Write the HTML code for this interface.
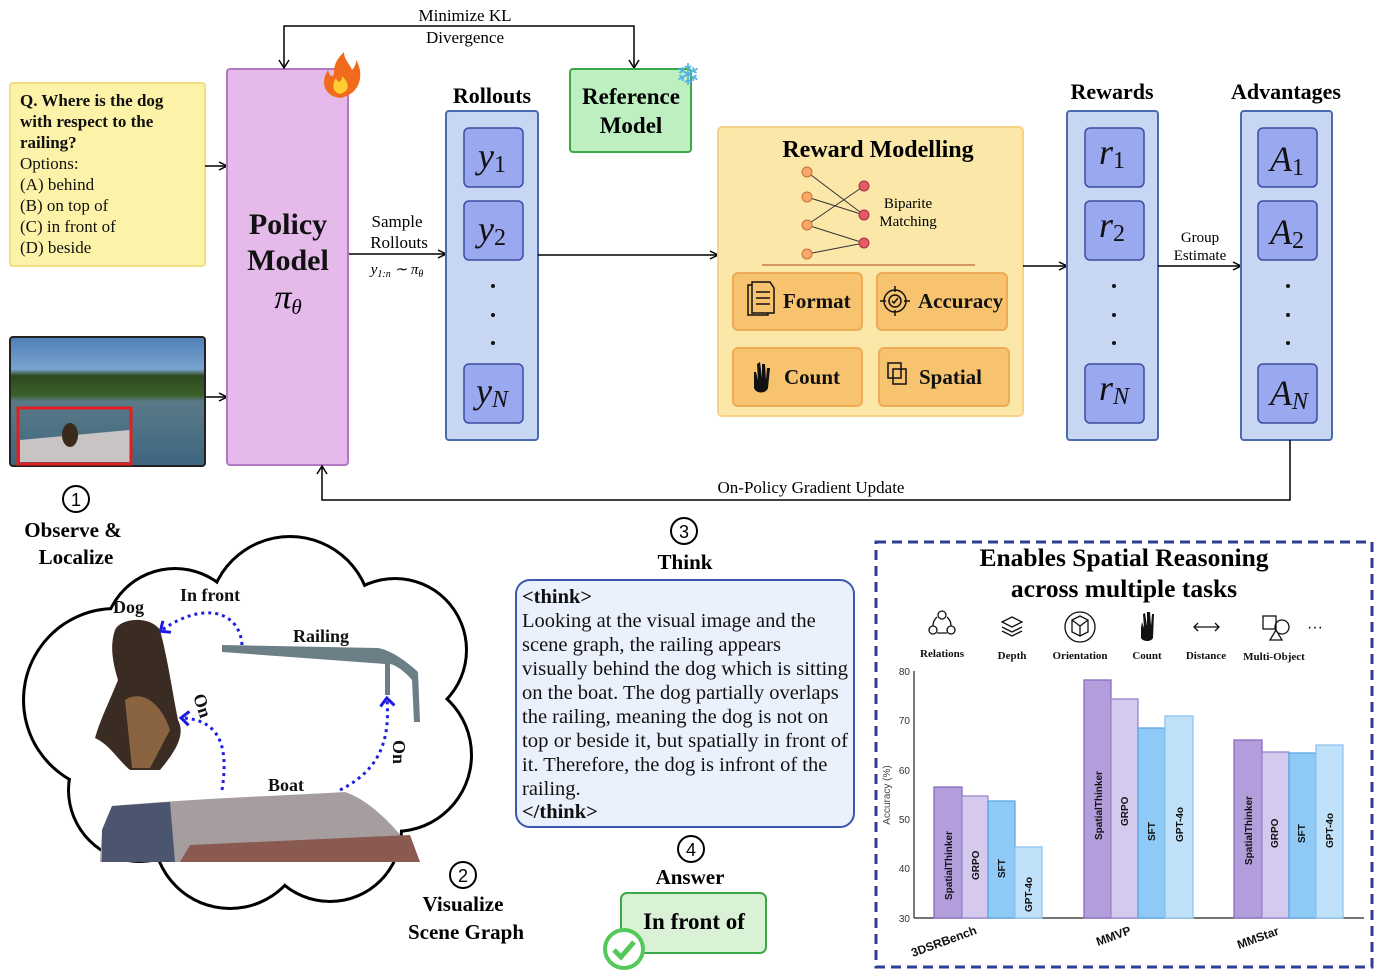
<!DOCTYPE html>
<html><head><meta charset="utf-8"><style>
html,body{margin:0;padding:0;background:#fff;}
svg{display:block;}
.s{font-family:"Liberation Serif",serif;}
.a{font-family:"Liberation Sans",sans-serif;}
</style></head><body>
<svg width="1376" height="977" viewBox="0 0 1376 977" xmlns="http://www.w3.org/2000/svg">
<defs>
<marker id="ar" markerWidth="10" markerHeight="10" refX="9" refY="5" orient="auto" markerUnits="userSpaceOnUse"><path d="M1,1 L9,5 L1,9" fill="none" stroke="#000" stroke-width="1.5"/></marker>
<marker id="bar" markerWidth="16" markerHeight="16" refX="8" refY="8" orient="auto" markerUnits="userSpaceOnUse"><path d="M2,1 L10,8 L2,15" fill="none" stroke="#1a1ae0" stroke-width="3"/></marker>
<linearGradient id="sky" x1="0" y1="0" x2="0" y2="1"><stop offset="0" stop-color="#4f7fb5"/><stop offset="0.25" stop-color="#7aa3cf"/><stop offset="0.3" stop-color="#2d4a1e"/><stop offset="0.45" stop-color="#3c5f2a"/><stop offset="0.5" stop-color="#5a7a88"/><stop offset="1" stop-color="#3e6680"/></linearGradient>
</defs>

<rect x="10" y="83" width="195" height="183" rx="3" fill="#fcf3a8" stroke="#f3dd86" stroke-width="2"/>
<g class="s" font-size="17" fill="#111">
<text x="20" y="106" font-weight="bold">Q. Where is the dog</text>
<text x="20" y="127" font-weight="bold">with respect to the</text>
<text x="20" y="148" font-weight="bold">railing?</text>
<text x="20" y="169">Options:</text>
<text x="20" y="190">(A) behind</text>
<text x="20" y="211">(B) on top of</text>
<text x="20" y="232">(C) in front of</text>
<text x="20" y="253">(D) beside</text>
</g>
<rect x="10" y="337" width="195" height="129" rx="3" fill="url(#sky)" stroke="#222" stroke-width="2"/>
<path d="M20,440 L130,430 L130,462 L20,462Z" fill="#c9c4c4"/>
<ellipse cx="70" cy="435" rx="8" ry="12" fill="#3a2a1c"/>
<rect x="18" y="408" width="113" height="56" fill="none" stroke="#e02020" stroke-width="3"/>

<line x1="205" y1="166" x2="227" y2="166" stroke="#000" stroke-width="1.5" marker-end="url(#ar)"/>
<line x1="205" y1="397" x2="227" y2="397" stroke="#000" stroke-width="1.5" marker-end="url(#ar)"/>

<rect x="227" y="69" width="121" height="396" rx="3" fill="#e5b9e9" stroke="#b278c2" stroke-width="2"/>
<g class="s" font-weight="bold" font-size="30" text-anchor="middle" fill="#111">
<text x="288" y="234">Policy</text>
<text x="288" y="270">Model</text>
</g>
<text class="s" x="288" y="308" font-size="34" font-style="italic" text-anchor="middle">π<tspan font-size="21" dy="6">θ</tspan></text>
<path d="M340,98 C324,96 320,82 328,70 C330,78 334,78 334,72 C334,62 340,56 344,52 C344,60 350,64 352,70 C356,66 356,62 356,60 C364,72 362,94 340,98Z" fill="#f26a1b"/>
<path d="M340,94 C332,92 332,84 336,78 C338,84 342,82 342,76 C348,82 352,90 340,94Z" fill="#ffcc33"/>

<path d="M284,67 L284,26 L634,26 L634,67" fill="none" stroke="#000" stroke-width="1.5"/>
<path d="M279,60 L284,68 L289,60" fill="none" stroke="#000" stroke-width="1.5"/>
<path d="M629,60 L634,68 L639,60" fill="none" stroke="#000" stroke-width="1.5"/>
<text class="s" x="465" y="21" font-size="17" text-anchor="middle">Minimize KL</text>
<text class="s" x="465" y="43" font-size="17" text-anchor="middle">Divergence</text>

<rect x="570" y="69" width="121" height="83" rx="3" fill="#bdefc0" stroke="#3ca845" stroke-width="2"/>
<text class="s" x="631" y="104" font-size="23" font-weight="bold" text-anchor="middle">Reference</text>
<text class="s" x="631" y="133" font-size="23" font-weight="bold" text-anchor="middle">Model</text>
<text x="688" y="85" font-size="30" text-anchor="middle" fill="#4fb3e8" font-family="DejaVu Sans">❄</text>

<line x1="349" y1="254" x2="446" y2="254" stroke="#000" stroke-width="1.5" marker-end="url(#ar)"/>
<text class="s" x="397" y="227" font-size="17" text-anchor="middle">Sample</text>
<text class="s" x="399" y="248" font-size="17" text-anchor="middle">Rollouts</text>
<text class="s" x="397" y="274" font-size="15" font-style="italic" text-anchor="middle">y<tspan font-size="10" dy="3">1:n</tspan><tspan dy="-3"> ∼ π</tspan><tspan font-size="10" dy="3">θ</tspan></text>

<text class="s" x="492" y="103" font-size="22" font-weight="bold" text-anchor="middle">Rollouts</text>
<rect x="446" y="111" width="92" height="329" rx="3" fill="#c6d6f3" stroke="#4a6bb0" stroke-width="2"/>
<g fill="#9aa8ef" stroke="#3c4ca0" stroke-width="1.5">
<rect x="464" y="128" width="59" height="59" rx="5"/><rect x="464" y="201" width="59" height="59" rx="5"/><rect x="464" y="364" width="59" height="59" rx="5"/></g>
<g class="s" font-style="italic" font-size="36" text-anchor="middle" fill="#111">
<text x="492" y="168">y<tspan font-size="24" font-style="normal" dy="4">1</tspan></text>
<text x="492" y="241">y<tspan font-size="24" font-style="normal" dy="4">2</tspan></text>
<text x="492" y="403">y<tspan font-size="24" dy="4">N</tspan></text>
</g>
<g fill="#111"><circle cx="493" cy="286" r="2"/><circle cx="493" cy="315" r="2"/><circle cx="493" cy="343" r="2"/></g>

<line x1="538" y1="255" x2="718" y2="255" stroke="#000" stroke-width="1.5" marker-end="url(#ar)"/>

<rect x="718" y="127" width="305" height="289" rx="4" fill="#fbe8a9" stroke="#f6d384" stroke-width="2"/>
<text class="s" x="878" y="157" font-size="24" font-weight="bold" text-anchor="middle">Reward Modelling</text>
<g stroke="#333" stroke-width="1">
<line x1="807" y1="172" x2="864" y2="215"/><line x1="807" y1="197" x2="864" y2="215"/><line x1="807" y1="225" x2="864" y2="186"/><line x1="807" y1="225" x2="864" y2="243"/><line x1="807" y1="254" x2="864" y2="243"/></g>
<g fill="#f9a86a" stroke="#c9703a"><circle cx="807" cy="172" r="5"/><circle cx="807" cy="197" r="5"/><circle cx="807" cy="225" r="5"/><circle cx="807" cy="254" r="5"/></g>
<g fill="#e65a66" stroke="#a43040"><circle cx="864" cy="186" r="5"/><circle cx="864" cy="215" r="5"/><circle cx="864" cy="243" r="5"/></g>
<text class="s" x="908" y="208" font-size="15" text-anchor="middle">Biparite</text>
<text class="s" x="908" y="226" font-size="15" text-anchor="middle">Matching</text>
<line x1="762" y1="265" x2="975" y2="265" stroke="#c87a4a" stroke-width="1.5"/>
<g fill="#f7c36f" stroke="#eeab55" stroke-width="2">
<rect x="733" y="273" width="129" height="57" rx="5"/><rect x="877" y="273" width="130" height="57" rx="5"/>
<rect x="733" y="348" width="129" height="58" rx="5"/><rect x="879" y="348" width="130" height="58" rx="5"/></g>
<g class="s" font-size="21" font-weight="bold" fill="#111">
<text x="783" y="308">Format</text><text x="918" y="308">Accuracy</text>
<text x="784" y="384">Count</text><text x="919" y="384">Spatial</text></g>
<g fill="none" stroke="#111" stroke-width="1.5">
<rect x="748" y="285" width="20" height="30"/><path d="M752,282 L770,282 L774,288 L774,313 L752,313Z" fill="#f7c36f"/><path d="M756,292 H770 M756,298 H770 M756,304 H770"/>
<circle cx="895" cy="301" r="11"/><circle cx="895" cy="301" r="6"/><path d="M895,286 V292 M895,310 V316 M880,301 H886 M904,301 H910 M892,301 L894,303 L898,298"/>
<rect x="888" y="363" width="13" height="15"/><rect x="893" y="369" width="13" height="15"/>
</g>
<path d="M754,372 L754,388 C756,394 766,394 768,388 L770,368 L767,368 L766,380 L765,364 L762,364 L762,378 L760,362 L757,364 L758,380 L756,372Z" fill="#111"/>

<line x1="1023" y1="266" x2="1067" y2="266" stroke="#000" stroke-width="1.5" marker-end="url(#ar)"/>

<text class="s" x="1112" y="99" font-size="22" font-weight="bold" text-anchor="middle">Rewards</text>
<rect x="1067" y="111" width="91" height="329" rx="3" fill="#c6d6f3" stroke="#4a6bb0" stroke-width="2"/>
<g fill="#9aa8ef" stroke="#3c4ca0" stroke-width="1.5">
<rect x="1085" y="128" width="59" height="59" rx="5"/><rect x="1085" y="201" width="59" height="59" rx="5"/><rect x="1085" y="364" width="59" height="59" rx="5"/></g>
<g class="s" font-style="italic" font-size="36" text-anchor="middle" fill="#111">
<text x="1112" y="164">r<tspan font-size="24" font-style="normal" dy="4">1</tspan></text>
<text x="1112" y="237">r<tspan font-size="24" font-style="normal" dy="4">2</tspan></text>
<text x="1114" y="400">r<tspan font-size="24" dy="4">N</tspan></text></g>
<g fill="#111"><circle cx="1114" cy="286" r="2"/><circle cx="1114" cy="315" r="2"/><circle cx="1114" cy="343" r="2"/></g>

<line x1="1158" y1="266" x2="1241" y2="266" stroke="#000" stroke-width="1.5" marker-end="url(#ar)"/>
<text class="s" x="1200" y="242" font-size="15" text-anchor="middle">Group</text>
<text class="s" x="1200" y="260" font-size="15" text-anchor="middle">Estimate</text>

<text class="s" x="1286" y="99" font-size="22" font-weight="bold" text-anchor="middle">Advantages</text>
<rect x="1241" y="111" width="91" height="329" rx="3" fill="#c6d6f3" stroke="#4a6bb0" stroke-width="2"/>
<g fill="#9aa8ef" stroke="#3c4ca0" stroke-width="1.5">
<rect x="1258" y="128" width="59" height="59" rx="5"/><rect x="1258" y="201" width="59" height="59" rx="5"/><rect x="1258" y="364" width="59" height="59" rx="5"/></g>
<g class="s" font-style="italic" font-size="36" text-anchor="middle" fill="#111">
<text x="1287" y="171">A<tspan font-size="24" font-style="normal" dy="4">1</tspan></text>
<text x="1287" y="244">A<tspan font-size="24" font-style="normal" dy="4">2</tspan></text>
<text x="1289" y="405">A<tspan font-size="24" dy="4">N</tspan></text></g>
<g fill="#111"><circle cx="1288" cy="286" r="2"/><circle cx="1288" cy="315" r="2"/><circle cx="1288" cy="343" r="2"/></g>

<path d="M1290,440 L1290,500 L322,500 L322,467" fill="none" stroke="#000" stroke-width="1.5"/>
<path d="M317,474 L322,466 L327,474" fill="none" stroke="#000" stroke-width="1.5"/>
<text class="s" x="811" y="493" font-size="17" text-anchor="middle">On-Policy Gradient Update</text>

<circle cx="76" cy="499" r="13" fill="none" stroke="#000" stroke-width="2"/>
<text class="a" x="76" y="506" font-size="18" text-anchor="middle">1</text>
<text class="s" x="73" y="537" font-size="21" font-weight="bold" text-anchor="middle">Observe &amp;</text>
<text class="s" x="76" y="564" font-size="21" font-weight="bold" text-anchor="middle">Localize</text>

<g fill="#000">
<circle cx="115" cy="700" r="93"/><circle cx="175" cy="640" r="73"/><circle cx="290" cy="618" r="83"/><circle cx="395" cy="650" r="73"/><circle cx="395" cy="755" r="78"/><circle cx="330" cy="830" r="73"/><circle cx="230" cy="832" r="78"/><circle cx="140" cy="790" r="73"/><circle cx="260" cy="720" r="130"/></g>
<g fill="#fff">
<circle cx="115" cy="700" r="90"/><circle cx="175" cy="640" r="70"/><circle cx="290" cy="618" r="80"/><circle cx="395" cy="650" r="70"/><circle cx="395" cy="755" r="75"/><circle cx="330" cy="830" r="70"/><circle cx="230" cy="832" r="75"/><circle cx="140" cy="790" r="70"/><circle cx="260" cy="720" r="130"/></g>
<path d="M115,630 C120,618 150,615 160,630 C168,660 172,690 178,720 C186,735 175,752 160,770 L130,770 C118,760 110,745 95,738 C100,720 110,700 118,680 C112,660 110,645 115,630Z" fill="#3a2c22"/>
<path d="M125,700 C140,690 160,700 170,730 L150,768 L132,768Z" fill="#8a6440"/>
<path d="M222,645 L378,648 C390,650 405,660 418,672 L420,722 L414,722 L412,680 C402,668 392,664 390,664 L390,695 L385,695 L385,664 L222,652Z" fill="#6d7f86"/>
<path d="M112,806 C200,798 280,796 345,792 C370,800 400,830 420,862 L100,862 L102,830Z" fill="#a69e9e"/>
<path d="M112,806 L170,802 L175,862 L102,862 L102,830Z" fill="#4b5570"/>
<path d="M190,845 L410,835 L420,862 L180,862Z" fill="#8a5a50"/>
<g fill="none" stroke="#1e1ee0" stroke-width="3" stroke-dasharray="3,4">
<path d="M242,645 C240,612 205,600 162,630" marker-end="url(#bar)"/>
<path d="M222,790 C230,740 215,720 183,718" marker-end="url(#bar)"/>
<path d="M340,790 C380,770 390,740 387,700" marker-end="url(#bar)"/>
</g>
<g class="s" font-size="18" font-weight="bold" fill="#111">
<text x="113" y="613">Dog</text><text x="180" y="601">In front</text><text x="293" y="642">Railing</text><text x="268" y="791">Boat</text>
<text transform="translate(193,696) rotate(72)">On</text>
<text transform="translate(393,740) rotate(90)">On</text></g>

<circle cx="463" cy="875" r="13" fill="none" stroke="#000" stroke-width="2"/>
<text class="a" x="463" y="882" font-size="18" text-anchor="middle">2</text>
<text class="s" x="463" y="911" font-size="21" font-weight="bold" text-anchor="middle">Visualize</text>
<text class="s" x="466" y="939" font-size="21" font-weight="bold" text-anchor="middle">Scene Graph</text>

<circle cx="684" cy="531" r="13" fill="none" stroke="#000" stroke-width="2"/>
<text class="a" x="684" y="538" font-size="18" text-anchor="middle">3</text>
<text class="s" x="685" y="569" font-size="21" font-weight="bold" text-anchor="middle">Think</text>
<rect x="516" y="580" width="338" height="247" rx="14" fill="#eaf0fc" stroke="#3a58b0" stroke-width="2"/>
<g class="s" font-size="20.5" fill="#111">
<text x="522" y="603" font-weight="bold">&lt;think&gt;</text>
<text x="522" y="627">Looking at the visual image and the</text>
<text x="522" y="651">scene graph, the railing appears</text>
<text x="522" y="675" textLength="326" lengthAdjust="spacingAndGlyphs">visually behind the dog which is sitting</text>
<text x="522" y="699">on the boat. The dog partially overlaps</text>
<text x="522" y="723">the railing, meaning the dog is not on</text>
<text x="522" y="747" textLength="326" lengthAdjust="spacingAndGlyphs">top or beside it, but spatially in front of</text>
<text x="522" y="771">it. Therefore, the dog is infront of the</text>
<text x="522" y="795">railing.</text>
<text x="522" y="818" font-weight="bold">&lt;/think&gt;</text></g>

<circle cx="691" cy="849" r="13" fill="none" stroke="#000" stroke-width="2"/>
<text class="a" x="691" y="856" font-size="18" text-anchor="middle">4</text>
<text class="s" x="690" y="884" font-size="21" font-weight="bold" text-anchor="middle">Answer</text>
<rect x="621" y="893" width="145" height="60" rx="6" fill="#d9f2d6" stroke="#3ca845" stroke-width="2"/>
<text class="s" x="694" y="929" font-size="23" font-weight="bold" text-anchor="middle">In front of</text>
<circle cx="624" cy="949" r="19" fill="#fff" stroke="#55c85a" stroke-width="4"/>
<path d="M614,950 L621,957 L634,942" fill="none" stroke="#55c85a" stroke-width="5"/>

<rect x="876" y="542" width="496" height="425" fill="none" stroke="#2e3f94" stroke-width="3" stroke-dasharray="10,6"/>
<text class="s" x="1124" y="566" font-size="25.5" font-weight="bold" text-anchor="middle">Enables Spatial Reasoning</text>
<text class="s" x="1124" y="597" font-size="25.5" font-weight="bold" text-anchor="middle">across multiple tasks</text>
<g class="s" font-size="11" font-weight="bold" text-anchor="middle" fill="#111">
<text x="942" y="657">Relations</text><text x="1012" y="659">Depth</text><text x="1080" y="659">Orientation</text><text x="1147" y="659">Count</text><text x="1206" y="659">Distance</text><text x="1274" y="660">Multi-Object</text></g>
<g fill="none" stroke="#111" stroke-width="1.3">
<circle cx="942" cy="615" r="4"/><circle cx="933" cy="630" r="4"/><circle cx="951" cy="630" r="4"/><path d="M937,617 A12,12 0 0,0 933,626 M947,617 A12,12 0 0,1 951,626 M937,633 H947"/>
<path d="M1002,622 L1012,617 L1022,622 L1012,627Z M1002,627 L1012,632 L1022,627 M1002,631 L1012,636 L1022,631"/>
<circle cx="1080" cy="627" r="15"/><path d="M1072,620 L1080,616 L1088,620 L1088,632 L1080,636 L1072,632Z M1080,626 V636 M1072,620 L1080,626 L1088,620"/>
<path d="M1194,627 H1219 M1198,623 L1194,627 L1198,631 M1215,623 L1219,627 L1215,631"/>
<rect x="1263" y="616" width="13" height="13"/><circle cx="1282" cy="627" r="7"/><path d="M1270,640 L1276,630 L1282,640Z"/>
</g>
<path d="M1141,628 L1141,638 C1143,642 1151,642 1153,638 L1154,614 L1152,614 L1151,626 L1150,612 L1147,612 L1147,626 L1145,613 L1143,614 L1144,628 L1142,622Z" fill="#111"/>
<text class="a" x="1315" y="632" font-size="16" text-anchor="middle">···</text>

<line x1="914" y1="671" x2="914" y2="918" stroke="#222" stroke-width="1.2"/>
<line x1="914" y1="918" x2="1364" y2="918" stroke="#222" stroke-width="1.2"/>
<g class="a" font-size="10" fill="#333" text-anchor="end">
<text x="910" y="675">80</text><text x="910" y="724">70</text><text x="910" y="774">60</text><text x="910" y="823">50</text><text x="910" y="872">40</text><text x="910" y="922">30</text></g>
<text class="a" transform="translate(890,795) rotate(-90)" font-size="10" fill="#444" text-anchor="middle">Accuracy (%)</text>
<g stroke-width="1.3">
<rect x="934" y="787" width="28" height="131" fill="#b39ddb" stroke="#8a6cc4"/>
<rect x="962" y="796" width="26" height="122" fill="#d5c9ee" stroke="#9a86d0"/>
<rect x="988" y="801" width="27" height="117" fill="#8fc9f6" stroke="#5aa7e6"/>
<rect x="1015" y="847" width="27" height="71" fill="#c0e1fa" stroke="#8cc4f0"/>
<rect x="1084" y="680" width="27" height="238" fill="#b39ddb" stroke="#8a6cc4"/>
<rect x="1111" y="699" width="27" height="219" fill="#d5c9ee" stroke="#9a86d0"/>
<rect x="1138" y="728" width="27" height="190" fill="#8fc9f6" stroke="#5aa7e6"/>
<rect x="1165" y="716" width="28" height="202" fill="#c0e1fa" stroke="#8cc4f0"/>
<rect x="1234" y="740" width="28" height="178" fill="#b39ddb" stroke="#8a6cc4"/>
<rect x="1262" y="752" width="27" height="166" fill="#d5c9ee" stroke="#9a86d0"/>
<rect x="1289" y="753" width="27" height="165" fill="#8fc9f6" stroke="#5aa7e6"/>
<rect x="1316" y="745" width="27" height="173" fill="#c0e1fa" stroke="#8cc4f0"/>
</g>
<g class="a" font-size="10" font-weight="bold" fill="#111">
<text transform="translate(952,900) rotate(-90)">SpatialThinker</text>
<text transform="translate(979,880) rotate(-90)">GRPO</text>
<text transform="translate(1005,878) rotate(-90)">SFT</text>
<text transform="translate(1032,912) rotate(-90)">GPT-4o</text>
<text transform="translate(1102,840) rotate(-90)">SpatialThinker</text>
<text transform="translate(1128,826) rotate(-90)">GRPO</text>
<text transform="translate(1155,841) rotate(-90)">SFT</text>
<text transform="translate(1183,842) rotate(-90)">GPT-4o</text>
<text transform="translate(1252,865) rotate(-90)">SpatialThinker</text>
<text transform="translate(1278,848) rotate(-90)">GRPO</text>
<text transform="translate(1305,843) rotate(-90)">SFT</text>
<text transform="translate(1333,848) rotate(-90)">GPT-4o</text>
<text transform="translate(913,957) rotate(-20)" font-size="12">3DSRBench</text>
<text transform="translate(1098,946) rotate(-20)" font-size="12">MMVP</text>
<text transform="translate(1239,949) rotate(-20)" font-size="12">MMStar</text>
</g>
</svg>
</body></html>
